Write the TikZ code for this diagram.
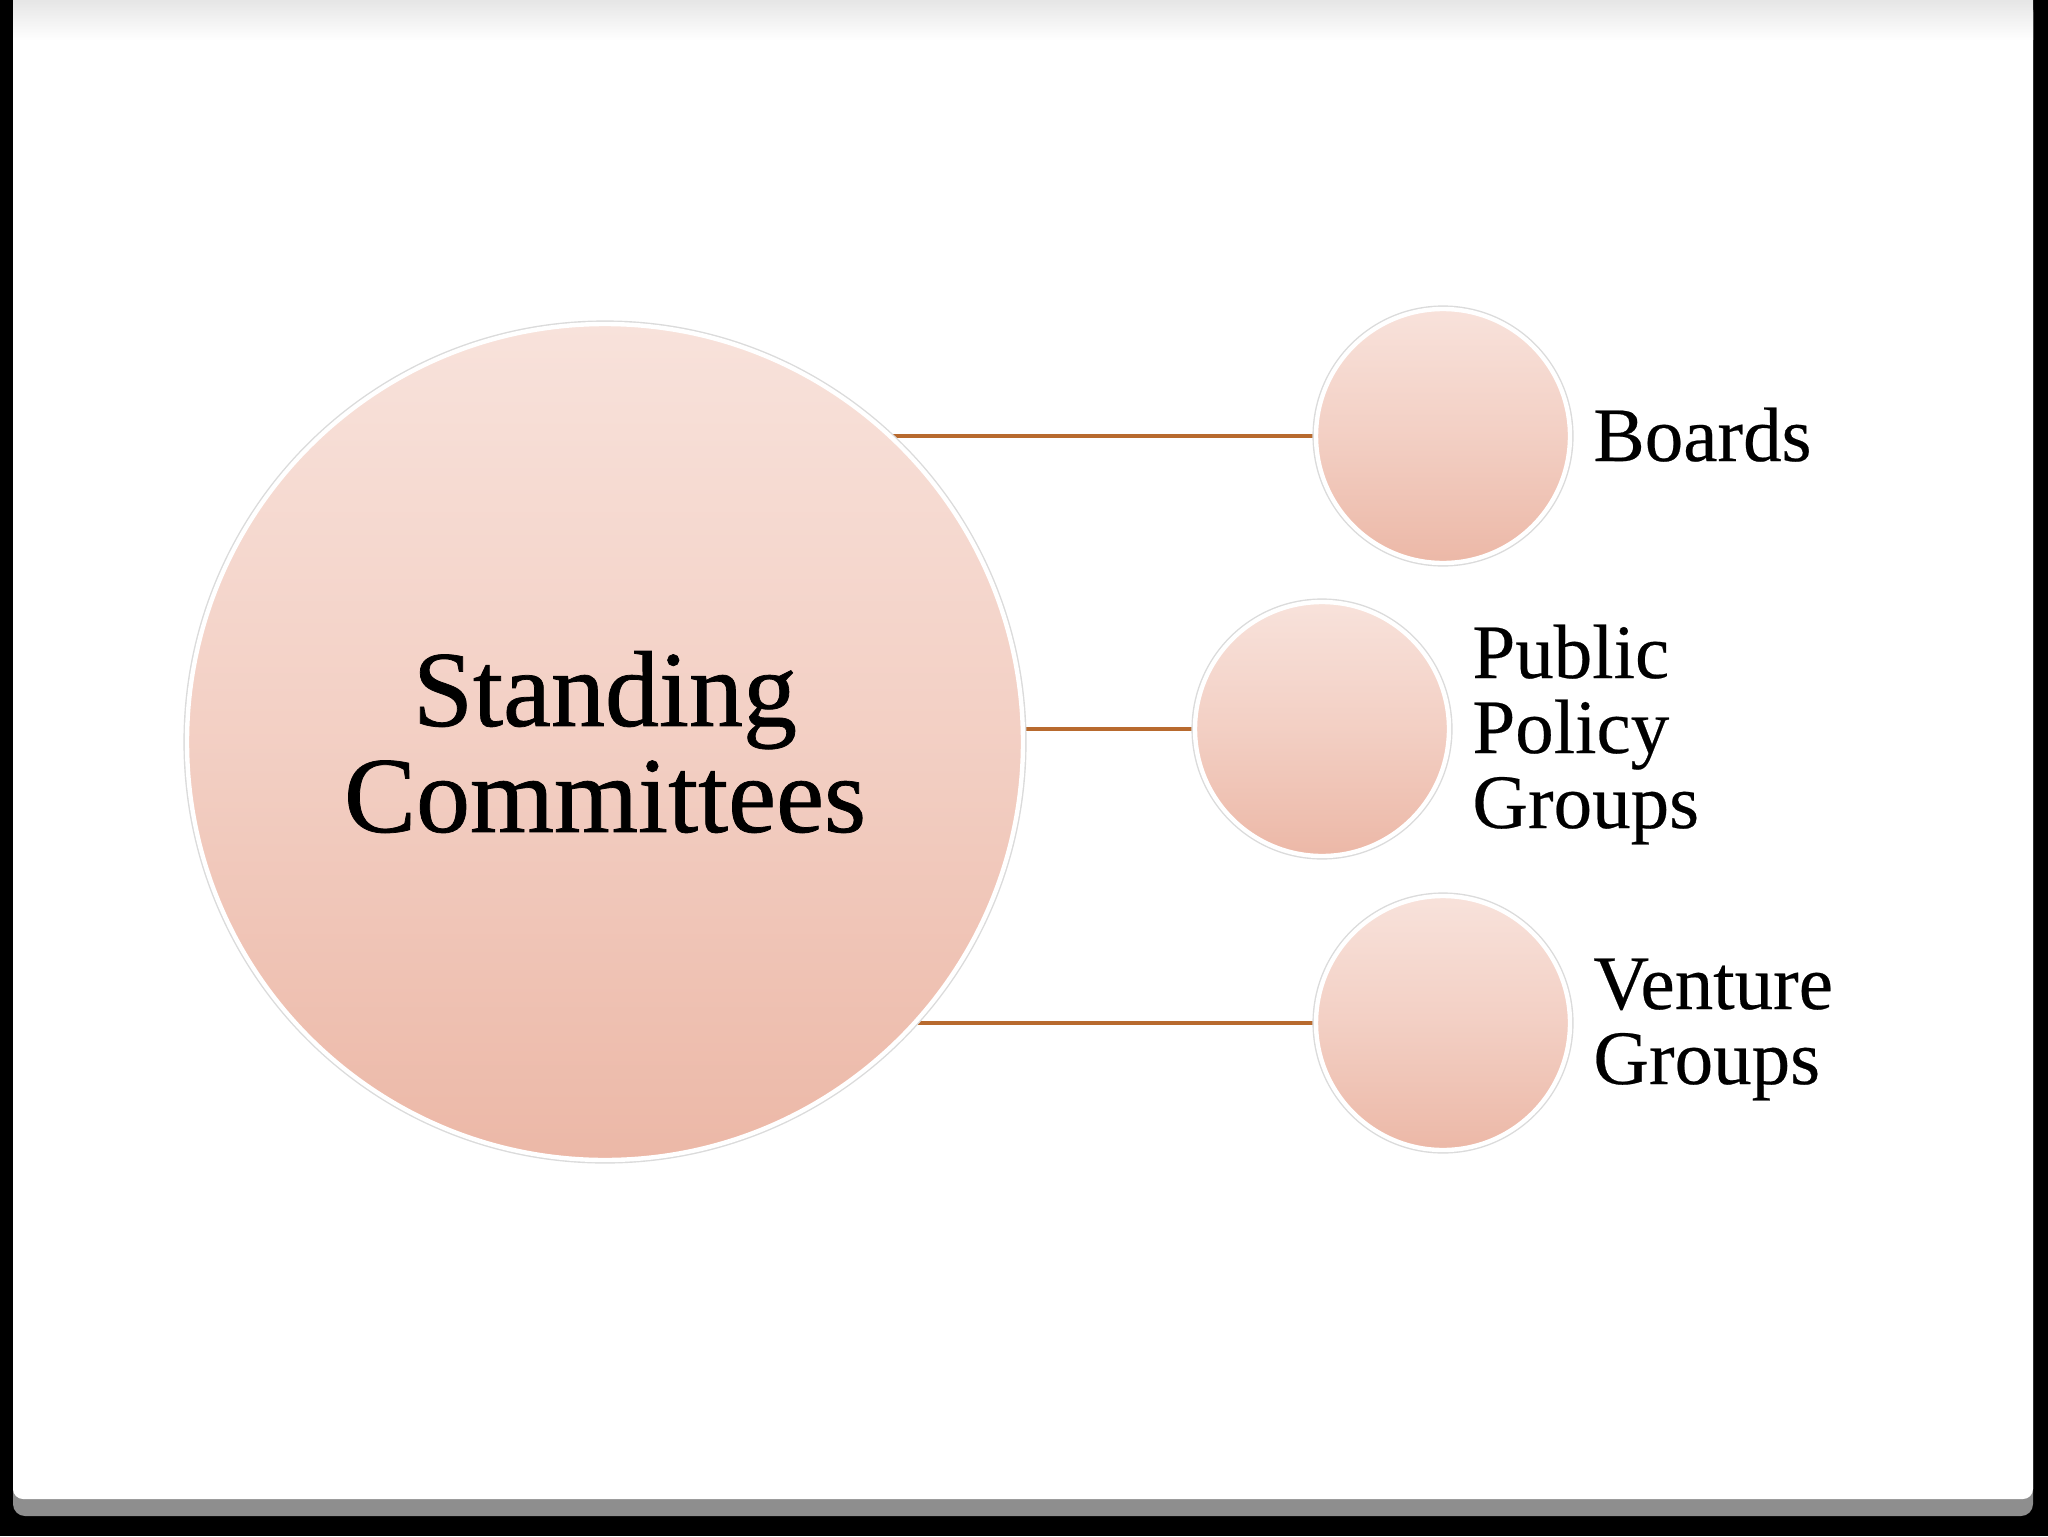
\documentclass[tikz,border=0pt]{standalone}
\usepackage{fontspec}
\setmainfont{Liberation Serif}
\newfontfamily\bigserif[FakeBold=0.7]{Liberation Serif}
\newfontfamily\lblserif[FakeBold=0.3]{Liberation Serif}
\definecolor{bubtop}{RGB}{248,226,219}
\definecolor{bubbot}{RGB}{236,184,167}
\definecolor{connc}{RGB}{184,106,46}
\definecolor{bandgray}{RGB}{142,142,142}
\pgfdeclarelayer{bglayer}
\pgfsetlayers{bglayer,main}
\begin{document}
\begin{tikzpicture}[x=0.5pt,y=-0.5pt,
  bubble/.style={circle, inner sep=0pt, top color=bubtop, bottom color=bubbot,
    middle color=bubtop!55!bubbot, draw=white, line width=2.2pt,
    preaction={draw=black!14, line width=3.6pt}},
  bigbubble/.style={bubble, minimum size=418pt, align=center,
    font=\bigserif\fontsize{54pt}{53pt}\selectfont},
  smallbubble/.style={bubble, minimum size=127pt},
  lbl/.style={inner sep=0pt, align=left, anchor=base west,
    font=\lblserif\fontsize{38.5pt}{37.5pt}\selectfont},
  conn/.style={draw=connc, line width=2.2pt}
]
\useasboundingbox (0,0) rectangle (2048,1536);
% frame and page
\begin{pgfonlayer}{bglayer}
\fill[black] (0,0) rectangle (2048,1536);
\fill[bandgray, rounded corners=6pt] (13,0) -- (13,1516) -- (2033,1516) -- (2033,0) -- cycle;
\fill[white, rounded corners=5pt] (13,0) -- (13,1499) -- (2033,1499) -- (2033,0) -- cycle;
\shade[top color=black!10, bottom color=white] (13,0) rectangle (2033,40);
\end{pgfonlayer}

% bubbles
\node[bigbubble] (sc) at (605,742) {Standing\\Committees};
\node[smallbubble] (b1) at (1443,436) {};
\node[smallbubble] (b2) at (1322,729) {};
\node[smallbubble] (b3) at (1443,1023) {};

% connectors (behind the bubbles)
\begin{pgfonlayer}{bglayer}
\draw[conn] (b1.center) -- (b1.center -| sc.center);
\draw[conn] (b2.center) -- (b2.center -| sc.center);
\draw[conn] (b3.center) -- (b3.center -| sc.center);
\end{pgfonlayer}

% labels
\node[lbl] (l1) at (1593,461) {Boards};
\node[lbl] (l2) at (1472,828) {Public\\Policy\\Groups};
\node[lbl] (l3) at (1593,1084) {Venture\\Groups};
\end{tikzpicture}
\end{document}
